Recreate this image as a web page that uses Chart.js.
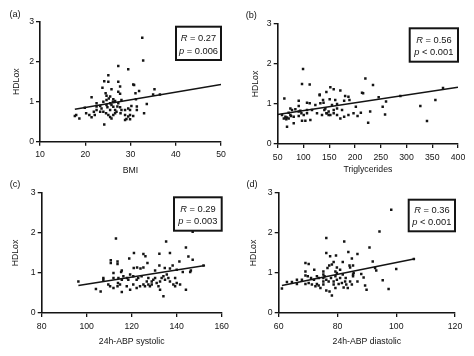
<!DOCTYPE html>
<html><head><meta charset="utf-8">
<script src="https://cdn.jsdelivr.net/npm/chart.js@4"></script>
<style>
html,body{margin:0;padding:0;background:#fff}
body{width:474px;height:356px;overflow:hidden;position:relative}
canvas{position:absolute}
</style></head><body>
<canvas id="ca" width="237" height="178" style="left:0px;top:0px"></canvas>
<canvas id="cb" width="237" height="178" style="left:237px;top:0px"></canvas>
<canvas id="cc" width="237" height="178" style="left:0px;top:178px"></canvas>
<canvas id="cd" width="237" height="178" style="left:237px;top:178px"></canvas>
<script>
// ---- data ----
const yTicks = [0, 1, 2, 3];

const bmiTicks = [10, 20, 30, 40, 50];
const bmiX = [32.6,32.8,27.3,29.5,25.1,25.1,24.2,27.3,27.7,30.6,30.8,23.8,25.8,27.3,27.7,31.9,31.1,35.3,35.0,36.5,21.4,24.5,24.7,25.2,26.2,24.0,25.5,26.6,27.1,28.0,31.2,31.4,31.4,33.6,19.9,22.5,23.3,23.6,24.7,24.9,25.5,25.8,26.2,26.6,26.9,27.7,28.0,28.8,29.5,29.9,30.2,28.8,29.1,29.5,29.9,29.9,30.6,33.0,28.8,24.2,18.0,17.7,18.7,20.2,20.9,21.4,22.1,21.9,22.5,23.3,24.0,24.6,25.1,25.5,25.8,26.2,26.6,24.7,25.5,22.5,26.1,27.8,27.3];
const bmiY = [2.6,2.03,1.89,1.81,1.66,1.5,1.51,1.5,1.38,1.43,1.42,1.35,1.31,1.25,1.2,1.27,1.21,1.31,1.18,1.18,1.11,1.21,1.15,1.08,1.06,1.0,0.96,1.02,0.88,1.04,1.06,0.88,0.79,0.94,0.85,0.96,0.89,0.83,0.92,0.86,0.79,0.92,0.875,0.79,0.75,0.86,0.79,0.79,0.83,0.79,0.89,0.67,0.57,0.63,0.67,0.56,0.64,0.71,0.54,0.43,0.67,0.64,0.58,0.71,0.67,0.61,0.67,0.75,0.79,0.75,0.75,0.71,0.67,0.62,0.58,0.67,0.71,1.04,1.13,0.88,1.0,0.71,0.96];
const bmiLineX = [17.7, 50];
const bmiLineY = [0.81, 1.43];

const tgTicks = [50, 100, 150, 200, 250, 300, 350, 400];
const tgX = [99.2,97.2,112.1,220.2,235.0,213.7,215.8,246.0,370.9,288.1,62.9,131.5,131.5,144.5,152.2,158.7,171.6,150.9,180.9,187.3,179.0,189.3,161.7,165.2,139.0,106.9,112.1,90.8,106.9,123.1,142.5,155.4,201.7,197.2,205.0,211.4,229.5,253.8,260.3,258.4,326.9,356.1,339.8,225.6,171.6,179.0,187.3,165.2,158.7,148.9,144.5,140.6,136.0,126.3,116.6,103.7,97.2,113.4,81.1,68.1,68.1,74.6,81.1,64.9,58.4,71.3,77.8,74.6,84.3,90.8,94.0,96.0,90.8,100.5,106.9,66.7,71.3,61.9,75.9,145.8,148.9,152.2,158.7,165.2,174.9,90.8,132.8,138.0];
const tgY = [1.875,1.5,1.49,1.64,1.475,1.28,1.27,1.17,1.4,1.2,1.14,1.22,1.24,1.3,1.42,1.37,1.34,1.12,1.2,1.18,1.08,1.1,1.1,1.0,1.03,1.03,1.02,1.08,0.85,0.975,0.89,0.975,0.93,0.77,0.7,0.78,0.81,0.93,1.06,0.74,0.95,1.1,0.575,0.53,0.64,0.68,0.725,0.725,0.77,0.725,0.77,0.85,0.725,0.77,0.85,0.58,0.58,0.6,0.52,0.43,0.66,0.725,0.68,0.68,0.725,0.78,0.85,0.89,0.87,0.81,0.83,0.77,0.7,0.725,0.77,0.62,0.64,0.64,0.7,0.77,0.81,0.725,0.85,0.89,0.85,0.95,1.02,1.1];
const tgLineX = [50, 400];
const tgLineY = [0.74, 1.42];

const sysTicks = [80, 100, 120, 140, 160];
const sysX = [113.0,147.1,135.3,144.1,145.2,147.1,151.9,141.2,137.0,132.3,125.2,121.0,118.9,126.1,127.0,110.7,110.7,113.7,113.7,132.3,134.7,138.2,123.9,122.4,120.9,125.2,130.4,137.0,140.0,142.7,146.3,146.0,96.3,107.4,107.4,111.9,115.6,115.3,111.9,113.9,114.8,115.6,117.9,119.3,120.7,122.2,122.9,124.4,126.7,127.4,128.1,128.9,129.6,130.4,131.1,131.9,132.6,133.3,134.1,134.8,135.6,136.3,137.0,138.5,139.3,140.0,134.1,132.6,144.1,139.3,141.5,104.1,106.2,109.6,110.4,111.9,113.7,115.6,117.8,119.3,120.7,122.2,123.7,125.2,125.9,118.5,116.3,114.1,127.4,128.9];
const sysY = [1.86,2.03,1.79,1.64,1.41,1.33,1.19,1.29,1.5,1.48,1.475,1.5,1.36,1.42,1.25,1.32,1.25,1.29,1.225,1.19,1.125,1.19,1.11,1.14,1.125,1.14,1.06,1.11,1.08,1.025,1.06,1.025,0.79,0.875,0.83,1.0,1.06,1.025,0.875,0.75,0.71,0.83,0.875,0.96,0.92,0.83,0.875,0.92,0.79,0.71,0.67,0.71,0.83,0.875,0.75,0.67,0.79,0.875,0.92,0.83,0.96,0.875,0.79,0.71,0.875,0.75,0.42,0.58,0.58,0.67,0.71,0.6,0.54,0.71,0.67,0.625,0.67,0.525,0.67,0.58,0.71,0.625,0.67,0.71,0.67,0.83,0.92,0.875,0.875,0.79];
const sysLineX = [96.3, 152.6];
const sysLineY = [0.69, 1.19];

const diaTicks = [60, 80, 100, 120];
const diaX = [98.3,94.3,90.9,76.2,82.3,76.2,79.5,77.5,83.7,84.9,86.8,92.0,92.8,93.2,100.0,106.0,95.4,97.4,89.9,89.4,88.9,88.1,85.5,85.3,85.3,84.1,84.3,81.8,78.7,77.2,76.6,78.1,79.8,80.9,69.1,70.2,72.1,69.1,69.1,69.9,71.0,72.0,75.2,75.2,75.2,75.2,75.2,75.6,76.2,77.0,77.8,78.7,79.3,79.8,80.4,80.9,81.8,82.6,83.0,83.5,84.3,84.9,82.1,81.5,79.3,78.7,78.1,77.3,76.2,74.2,73.6,73.0,72.5,71.3,70.2,69.1,67.9,66.2,66.2,64.5,62.8,61.1,73.6,73.0,79.3,79.8,82.8,85.3,86.8];
const diaY = [2.58,2.04,1.64,1.875,1.79,1.5,1.44,1.42,1.525,1.36,1.475,1.29,1.125,1.06,1.1,1.35,0.82,0.6,0.58,0.69,0.89,0.975,1.0,0.92,1.19,1.19,1.14,1.275,1.275,1.19,1.125,1.21,1.14,1.08,1.25,1.225,1.08,1.04,0.94,0.92,0.875,0.83,1.04,0.96,0.875,0.79,0.71,0.92,0.83,0.79,0.875,0.79,0.92,0.83,0.725,0.875,0.96,0.79,0.71,0.625,0.79,0.71,0.64,0.75,0.625,0.71,0.44,0.54,0.56,0.625,0.69,0.725,0.67,0.71,0.75,0.725,0.83,0.725,0.83,0.775,0.775,0.61,0.875,0.92,1.04,1.0,0.875,0.96,0.79];
const diaLineX = [61.1, 106.0];
const diaLineY = [0.69, 1.35];

// ---- drawing ----
const FF = '"Liberation Sans", Arial, sans-serif';
const FS = 8.7;
const INK = '#141414';
const W = 237, H = 178;

const panels = [
  {id:'ca', tag:'(a)', xTitle:'BMI', ticks:bmiTicks, xs:bmiX, ys:bmiY, lx:bmiLineX, ly:bmiLineY,
   R:'0.27', p:'0.006', rel:'=',
   area:{l:40, r:221, t:21.7, b:141.7}, box:{x1:176, x2:221, y1:26.7, y2:60},
   tagPos:[15,14], yTitleX:16.7, xTitleOff:7},
  {id:'cb', tag:'(b)', xTitle:'Triglycerides', ticks:tgTicks, xs:tgX, ys:tgY, lx:tgLineX, ly:tgLineY,
   R:'0.56', p:'0.001', rel:'<',
   area:{l:40.7, r:221, t:24, b:144}, box:{x1:172.7, x2:221, y1:28.3, y2:61.7},
   tagPos:[14.3,15], yTitleX:18.3, xTitleOff:8},
  {id:'cc', tag:'(c)', xTitle:'24h-ABP systolic', ticks:sysTicks, xs:sysX, ys:sysY, lx:sysLineX, ly:sysLineY,
   R:'0.29', p:'0.003', rel:'=',
   area:{l:41.7, r:221.7, t:15, b:135}, box:{x1:174, x2:221.7, y1:19.3, y2:52.7},
   tagPos:[15,6.7], yTitleX:16, xTitleOff:14.7},
  {id:'cd', tag:'(d)', xTitle:'24h-ABP diastolic', ticks:diaTicks, xs:diaX, ys:diaY, lx:diaLineX, ly:diaLineY,
   R:'0.36', p:'0.001', rel:'<',
   area:{l:41.7, r:218, t:15, b:135}, box:{x1:171.7, x2:218, y1:21.7, y2:53.3},
   tagPos:[15,6.7], yTitleX:16.7, xTitleOff:14.7}
];

function drawMixed(ctx, italic, rest, cx, cy, size){
  const fi = 'italic ' + size + 'px ' + FF, fn = size + 'px ' + FF;
  ctx.font = fi; const w1 = ctx.measureText(italic).width;
  ctx.font = fn; const w2 = ctx.measureText(rest).width;
  let x = cx - (w1 + w2) / 2;
  ctx.textBaseline = 'middle'; ctx.textAlign = 'left';
  ctx.font = fi; ctx.fillText(italic, x, cy);
  ctx.font = fn; ctx.fillText(rest, x + w1, cy);
}

function make(P){
  const A = P.area;
  const extra = {
    id:'extra'+P.id,
    afterDraw(chart){
      const ctx = chart.ctx;
      ctx.save();
      ctx.fillStyle = INK; ctx.strokeStyle = INK;
      ctx.font = '9.2px ' + FF; ctx.textAlign = 'center'; ctx.textBaseline = 'middle';
      ctx.fillText(P.tag, P.tagPos[0], P.tagPos[1]);
      const B = P.box;
      ctx.fillStyle = '#fff';
      ctx.fillRect(B.x1, B.y1, B.x2 - B.x1, B.y2 - B.y1);
      ctx.lineWidth = 2;
      ctx.strokeRect(B.x1, B.y1, B.x2 - B.x1, B.y2 - B.y1);
      ctx.fillStyle = INK;
      const cx = (B.x1 + B.x2) / 2, h = B.y2 - B.y1;
      drawMixed(ctx, 'R', ' = ' + P.R, cx, B.y1 + h * 0.35, 9.3);
      drawMixed(ctx, 'p', ' ' + P.rel + ' ' + P.p, cx, B.y1 + h * 0.73, 9.3);
      ctx.restore();
    }
  };
  const lh = FS * 1.2;
  const axisCommon = {
    grid:{display:true, drawOnChartArea:false, drawTicks:true, tickLength:4, color:INK, lineWidth:1.3},
    border:{display:true, color:INK, width:1.6},
  };
  new Chart(document.getElementById(P.id), {
    type:'scatter',
    data:{datasets:[
      {type:'line', data:P.lx.map((x,i)=>({x:x, y:P.ly[i]})), borderColor:INK, borderWidth:1.5,
       pointRadius:0, fill:false, tension:0, order:2},
      {type:'scatter', data:P.xs.map((x,i)=>({x:x, y:P.ys[i]})), pointStyle:'rect', pointRadius:1.75,
       backgroundColor:INK, borderWidth:0, order:1}
    ]},
    options:{
      responsive:false, animation:false, devicePixelRatio:1,
      layout:{padding:{left:0, top:A.t, right:W - A.r, bottom:0}},
      plugins:{legend:{display:false}, tooltip:{enabled:false}, title:{display:false}},
      scales:{
        x:Object.assign({}, axisCommon, {
          type:'linear', min:P.ticks[0], max:P.ticks[P.ticks.length-1],
          afterBuildTicks:s=>{ s.ticks = P.ticks.map(v=>({value:v})); },
          afterFit:s=>{ s.height = H - A.b; },
          ticks:{color:INK, font:{family:FF, size:FS}, padding:4, maxRotation:0, autoSkip:false},
          title:{display:true, text:P.xTitle, color:INK, font:{family:FF, size:FS},
                 padding:{top:0, bottom:P.xTitleOff - lh/2}}
        }),
        y:Object.assign({}, axisCommon, {
          type:'linear', min:0, max:3,
          afterBuildTicks:s=>{ s.ticks = yTicks.map(v=>({value:v})); },
          afterFit:s=>{ s.width = A.l; },
          ticks:{color:INK, font:{family:FF, size:FS}, padding:2, autoSkip:false},
          title:{display:true, text:'HDLox', color:INK, font:{family:FF, size:FS},
                 padding:{top:P.yTitleX - lh/2, bottom:0}}
        })
      }
    },
    plugins:[extra]
  });
}
panels.forEach(make);
</script>
</body></html>
